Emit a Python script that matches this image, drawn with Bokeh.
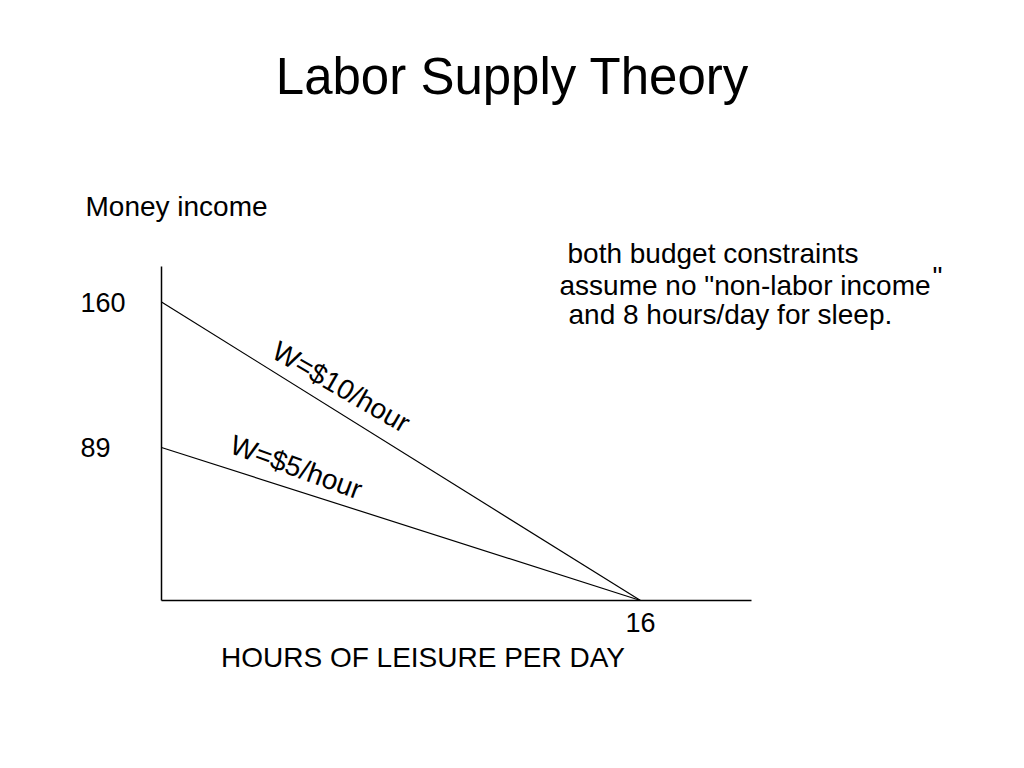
import math
from bokeh.plotting import figure
from bokeh.models import Range1d, FixedTicker, LinearAxis
from bokeh.core.properties import value
from bokeh.embed import file_html
from bokeh.resources import INLINE

# ---- data ----
wage_labels = ["W=$10/hour", "W=$5/hour"]
income_at_zero_leisure = [160, 82]   # where each budget line meets the income axis (as drawn)
max_leisure_hours = 16               # both lines meet the leisure axis here
y_tick_values = [160, 82]
y_tick_labels = ["160", "89"]
x_tick_values = [16]
x_tick_labels = ["16"]
x_axis_end = 19.71
y_axis_end = 179

FONT = "Liberation Sans"

p = figure(width=1008, height=752, output_backend="svg", toolbar_location=None,
           x_range=Range1d(-5.378, 27.624), y_range=Range1d(-53.60, 321.61),
           y_axis_location=None,
           min_border_left=0, min_border_right=20, min_border_top=0, min_border_bottom=52)
p.outline_line_color = None
p.xgrid.visible = False
p.ygrid.visible = False
p.background_fill_color = "white"
p.border_fill_color = "white"

yaxis = LinearAxis()
p.add_layout(yaxis, "right")

for ax in (p.xaxis[0], yaxis):
    ax.axis_line_color = "black"
    ax.axis_line_width = 1.5
    ax.major_tick_line_color = None
    ax.minor_tick_line_color = None
    ax.major_tick_in = 0
    ax.major_tick_out = 0
    ax.major_label_text_font = FONT
    ax.major_label_text_font_size = "27px"
    ax.major_label_text_color = "black"
    ax.fixed_location = 0

yaxis.bounds = (0, y_axis_end)
yaxis.ticker = FixedTicker(ticks=y_tick_values)
yaxis.major_label_overrides = {v: s for v, s in zip(y_tick_values, y_tick_labels)}
yaxis.major_label_standoff = -81
p.xaxis[0].bounds = (0, x_axis_end)
p.xaxis[0].ticker = FixedTicker(ticks=x_tick_values)
p.xaxis[0].major_label_overrides = {v: s for v, s in zip(x_tick_values, x_tick_labels)}
p.xaxis[0].major_label_standoff = 12

# budget lines
for inc in income_at_zero_leisure:
    p.line([0, max_leisure_hours], [inc, 0], line_color="black", line_width=1.2)

# rotated line labels
label_pos = [(6.0, 114.5, -30), (4.5, 71.5, -20)]
for txt, (x, y, ang) in zip(wage_labels, label_pos):
    p.text(x=[x], y=[y], text=[txt], angle=math.radians(ang), text_align="center",
           text_baseline="middle", text_font=value(FONT), text_font_size="28px",
           text_color="black")

def lab(x, y, text, align="left", size="28px"):
    p.text(x=[x], y=[y], text=[text], text_align=align, text_baseline="alphabetic",
           text_font=value(FONT), text_font_size=size, text_color="black")

lab(11.724, 280.87, "Labor Supply Theory", align="center", size="51px")
lab(-2.539, 210.96, "Money income")
lab(8.735, -30.39, "HOURS OF LEISURE PER DAY", align="center")
lab(13.562, 186.05, "both budget constraints")
lab(13.294, 169.06, 'assume no "non-labor income')
lab(25.754, 173.5, '"')
lab(13.595, 153.35, "and 8 hours/day for sleep.")

open("out.html", "w").write(file_html(p, INLINE))
